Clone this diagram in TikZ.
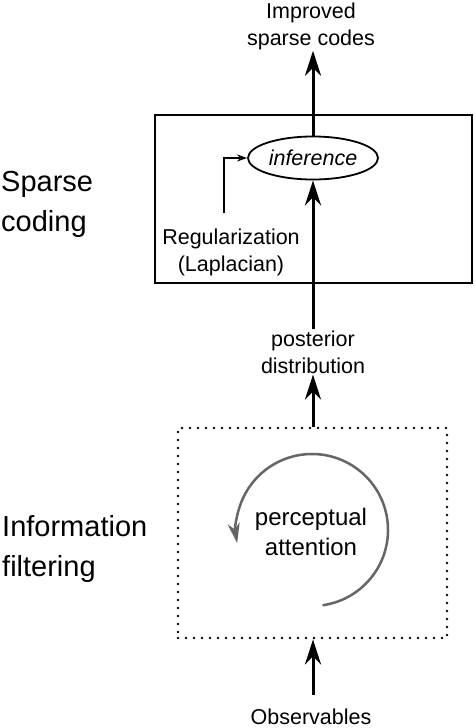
\documentclass[tikz,border=0pt]{standalone}
\usepackage{fontspec}
\setmainfont{Liberation Sans}
\usetikzlibrary{arrows.meta,shapes.geometric}
\begin{document}
\begin{tikzpicture}[x=1pt,y=1pt,
  lbl/.style={align=center,inner sep=1pt,font=\fontsize{21.5}{27}\selectfont},
  side/.style={anchor=west,align=left,inner sep=0pt,font=\fontsize{29}{39.5}\selectfont},
  mainarrow/.style={line width=3pt,-{Stealth[length=25pt,width=16pt,inset=8pt]}},
  regarrow/.style={line width=1.5pt,-{Stealth[length=10pt,width=7pt,inset=3pt]}},
  circarrow/.style={line width=2.5pt,draw=black!60,-{Stealth[length=20pt,width=12pt,inset=6pt]}},
  solidbox/.style={draw,line width=1.8pt},
  dotbox/.style={draw,line width=2.8pt,line cap=round,dash pattern=on 0pt off 8pt}
]
\useasboundingbox (0,0) rectangle (474,-728);
\fill[white] (0,0) rectangle (474,-728);

% solid box (sparse coding)
\node[solidbox,inner sep=0pt,minimum width=317pt,minimum height=168pt] (sbox) at (313.5,-199) {};
% dotted box (information filtering)
\node[dotbox,inner sep=0pt,minimum width=269pt,minimum height=210pt] (dbox) at (312.5,-533) {};

% texts
\node[lbl] (imp) at (311,-26) {Improved\\sparse codes};
\node[draw,ellipse,line width=1.8pt,minimum width=130pt,minimum height=43pt,inner sep=0pt,
      font=\fontsize{21.5}{27}\selectfont\itshape] (infer) at (313,-158) {inference};
\node[lbl] (reg) at (231,-252) {Regularization\\(Laplacian)};
\node[lbl] (post) at (313,-352) {posterior\\distribution};
\node[lbl,font=\fontsize{24}{30}\selectfont] (perc) at (311,-532) {perceptual\\attention};
\node[lbl,anchor=base] (obs) at (311,-724) {Observables};
\node[side] (sparse) at (1,-204.5) {Sparse\\coding};
\node[side] (info) at (2,-549) {Information\\filtering};

\coordinate (regstart) at (224,-213);
\coordinate (obsstart) at (313,-695);
\coordinate (cc) at (312,-530);

% connectors
\draw[mainarrow] (infer.north) -- (imp.south -| infer.north);
\draw[mainarrow] (post.north -| infer.south) -- (infer.south);
\draw[mainarrow] (dbox.north -| post.south) -- (post.south -| infer.south);
\draw[mainarrow] (obsstart) -- (dbox.south -| obsstart);
\draw[regarrow] (regstart) |- (infer.west);
\draw[circarrow] ([shift={(-82:76pt)}]cc) arc[start angle=-82,end angle=190,radius=76pt];
\end{tikzpicture}
\end{document}
